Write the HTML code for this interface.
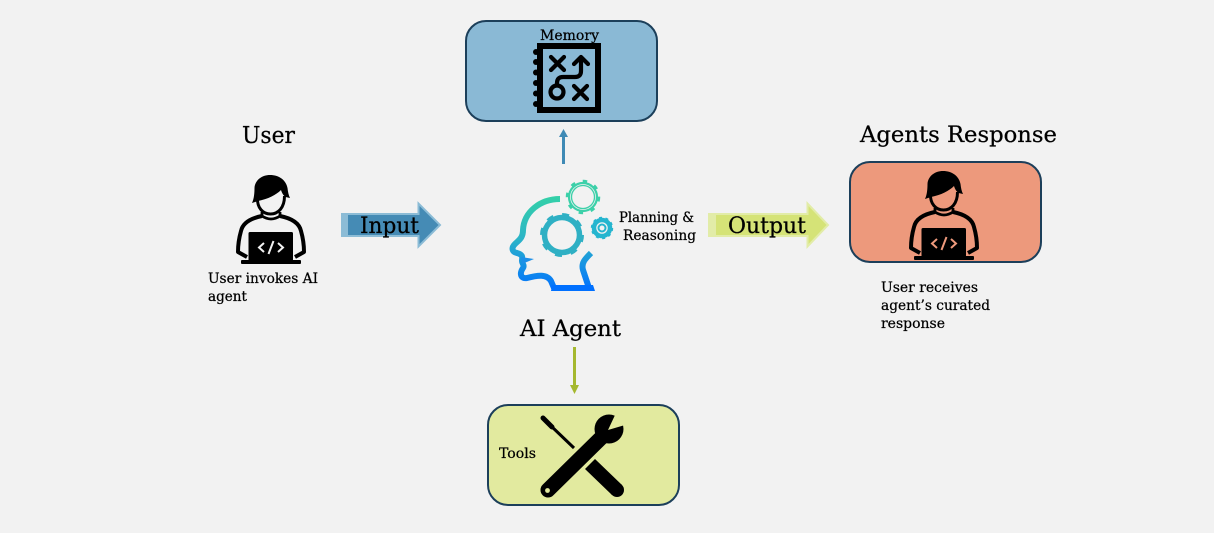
<!DOCTYPE html>
<html><head><meta charset="utf-8"><style>
html,body{margin:0;padding:0;background:#f2f2f2;width:1214px;height:533px;overflow:hidden}
svg{display:block}
text{font-family:"DejaVu Serif","Liberation Serif",serif;fill:#000;stroke:#000;stroke-width:.25}
</style></head><body>
<svg width="1214" height="533" viewBox="0 0 1214 533" xmlns="http://www.w3.org/2000/svg">
<defs>
<linearGradient id="hg" gradientUnits="userSpaceOnUse" x1="0" y1="197" x2="0" y2="291">
<stop offset="0" stop-color="#34d0a8"/><stop offset="0.45" stop-color="#2cb4c8"/><stop offset="1" stop-color="#0070ff"/>
</linearGradient>
<g id="person">
<path d="M252,203 C254,199 254.500,193 254.500,188 C255,180 262,175 270,175 C279,175 286,180 287.500,188 C288,192 288.500,195 290,198 L285.500,197 C283,195 282,193 281,190 C276,195 268,199 258,201 Z" fill="#000"/>
<path d="M257.500,198 C257,208 263,214 270.500,214 C278,214 284.500,208 284.500,196" fill="none" stroke="#000" stroke-width="3"/>
<path d="M262,212 L262,216 Q271,222 280,216 L280,212" fill="none" stroke="#000" stroke-width="2.800"/>
<path d="M262,216 C252,218 243,222 241,231 C239,238 238,245 238,252 L247,257" fill="none" stroke="#000" stroke-width="4" stroke-linejoin="round"/>
<path d="M280,216 C290,218 299,222 301,231 C303,238 304,245 304,252 L295,257" fill="none" stroke="#000" stroke-width="4" stroke-linejoin="round"/>
<rect x="248.500" y="232" width="44.500" height="29" rx="1.500" fill="#000"/>
<rect x="241" y="260" width="60" height="4" rx="1" fill="#000"/>
<path d="M264,243 L259,247.500 L264,252 M278,243 L283,247.500 L278,252 M273.500,241 L268.500,254" fill="none" stroke="currentColor" stroke-width="2"/>
</g>
</defs>

<!-- Memory box -->
<rect x="466" y="21" width="191" height="100" rx="20" fill="#8ab9d5" stroke="#1c3f5a" stroke-width="2"/>
<rect x="540" y="46" width="58" height="64" fill="none" stroke="#000" stroke-width="6"/>
<g fill="#000"><rect x="533" y="49" width="6" height="6" rx="3"/><rect x="533" y="59" width="6" height="6" rx="3"/><rect x="533" y="69.500" width="6" height="6" rx="3"/><rect x="533" y="80" width="6" height="6" rx="3"/><rect x="533" y="90.500" width="6" height="6" rx="3"/><rect x="533" y="101" width="6" height="6" rx="3"/></g>
<g fill="none" stroke="#000" stroke-width="4.200" stroke-linecap="round" stroke-linejoin="round">
<path d="M551,57 L564,70 M564,57 L551,70"/>
<path d="M574,86 L587,99 M587,86 L574,99"/>
<circle cx="557" cy="92" r="6.500"/>
<path d="M557,85 L557,83 Q557,77 563,77 L575,77 Q581,77 581,71 L581,58"/>
<path d="M574,64 L581,57 L588,64"/>
</g>
<text x="540" y="40" font-size="13.500" textLength="59" lengthAdjust="spacingAndGlyphs">Memory</text>

<!-- Up arrow -->
<path d="M563.500,164 V137" stroke="#3f8ab5" stroke-width="3" fill="none"/>
<path d="M559,137 L563.500,129 L568,137 Z" fill="#3f8ab5"/>

<!-- User -->
<text x="242" y="143" font-size="23" textLength="53" lengthAdjust="spacingAndGlyphs">User</text>
<use href="#person" color="#f2f2f2"/>
<text x="208" y="283" font-size="13.500" textLength="110" lengthAdjust="spacingAndGlyphs">User invokes AI</text>
<text x="208" y="301" font-size="13.500" textLength="39" lengthAdjust="spacingAndGlyphs">agent</text>

<!-- Input arrow -->
<path d="M342,214 H418.500 V203.500 L440,225 L418.500,246.500 V236 H342 Z" fill="#458bb5" stroke="#8cbcd6" stroke-width="2"/>
<rect x="341" y="213" width="7" height="23.500" fill="#8cbcd6"/>
<text x="360" y="233" font-size="22" textLength="59" lengthAdjust="spacingAndGlyphs">Input</text>

<!-- Head -->
<g fill="none" stroke="url(#hg)" stroke-width="6" stroke-linejoin="round">
<path d="M560,199 C540,199 524,212 523,230 C523,238 519,240 515,244 C511,248 512,252 517,253 C524,255 522,258 522,261 C522,264 525,265 523,268 C519,274 521,279 527,278 C538,275 547,274 551,281 L554,288"/>
<path d="M591,253 C585,259 581,263 583,270 L589,288"/>
</g>
<path d="M552,285 H593 L595,291 H551 Z" fill="#0070ff"/>
<path d="M521,257 L534,259 L522,264 Z" fill="#1e90e8"/>
<!-- Gears -->
<circle cx="562" cy="235" r="17.500" fill="none" stroke="#2fb0c4" stroke-width="5.500"/>
<circle cx="562" cy="235" r="20.500" fill="none" stroke="#2fb0c4" stroke-width="3" stroke-dasharray="7 9.100"/>
<circle cx="583" cy="197" r="11.500" fill="none" stroke="#3cd0a9" stroke-width="1.300"/>
<circle cx="583" cy="197" r="14" fill="none" stroke="#3cd0a9" stroke-width="2.200"/>
<circle cx="583" cy="197" r="16" fill="none" stroke="#3cd0a9" stroke-width="2.500" stroke-dasharray="4.500 8"/>
<circle cx="602" cy="228" r="8" fill="none" stroke="#25b5cf" stroke-width="4.500"/>
<circle cx="602" cy="228" r="10.300" fill="none" stroke="#25b5cf" stroke-width="1.800" stroke-dasharray="3 3.470"/>
<circle cx="602" cy="228" r="3.500" fill="none" stroke="#25b5cf" stroke-width="2"/>
<text x="619" y="222" font-size="13.500" textLength="75" lengthAdjust="spacingAndGlyphs">Planning &amp;</text>
<text x="623" y="240" font-size="13.500" textLength="73" lengthAdjust="spacingAndGlyphs">Reasoning</text>
<text x="520" y="336" font-size="22.500" textLength="101" lengthAdjust="spacingAndGlyphs">AI Agent</text>

<!-- Output arrow -->
<path d="M709,214 H807.500 V203.500 L828,225 L807.500,246.500 V236 H709 Z" fill="#d5e377" stroke="#e2eca8" stroke-width="2"/>
<rect x="708" y="213" width="8" height="23.500" fill="#e2eca8"/>
<text x="728" y="233" font-size="22" textLength="78" lengthAdjust="spacingAndGlyphs">Output</text>

<!-- Agents Response -->
<text x="860" y="142" font-size="22.500" textLength="197" lengthAdjust="spacingAndGlyphs">Agents Response</text>
<rect x="850" y="162" width="191" height="100" rx="20" fill="#ed997c" stroke="#1c3f5a" stroke-width="2"/>
<use href="#person" x="673" y="-4" color="#ed997c"/>
<text x="881" y="292" font-size="13.500" textLength="97" lengthAdjust="spacingAndGlyphs">User receives</text>
<text x="881" y="310" font-size="13.500" textLength="109" lengthAdjust="spacingAndGlyphs">agent’s curated</text>
<text x="881" y="328" font-size="13.500" textLength="64" lengthAdjust="spacingAndGlyphs">response</text>

<!-- Down arrow -->
<path d="M574.500,347 V386" stroke="#a5b82f" stroke-width="3" fill="none"/>
<path d="M570,385 H579 L574.500,394 Z" fill="#a5b82f"/>

<!-- Tools box -->
<rect x="488" y="405" width="191" height="100" rx="20" fill="#e2ea9f" stroke="#1c3f5a" stroke-width="2"/>
<text x="499" y="458" font-size="13.500" textLength="37" lengthAdjust="spacingAndGlyphs">Tools</text>
<!-- Screwdriver -->
<path d="M543,418 L552,427" stroke="#000" stroke-width="5" stroke-linecap="round"/>
<path d="M550,425 L574,448" stroke="#000" stroke-width="3"/>
<path d="M595,459 L585,469 L612,495 L622,485 Z" fill="#000"/>
<circle cx="617" cy="490" r="7" fill="#000"/>
<!-- Wrench -->
<path d="M548,490 L604,435" stroke="#000" stroke-width="15" stroke-linecap="round"/>
<circle cx="609" cy="429" r="14.500" fill="#000"/>
<path d="M615.500,414 L608,430 L625,425 L626,410 Z" fill="#e2ea9f"/>
<circle cx="547.500" cy="490.500" r="2.400" fill="#e2ea9f"/>
</svg>
</body></html>
